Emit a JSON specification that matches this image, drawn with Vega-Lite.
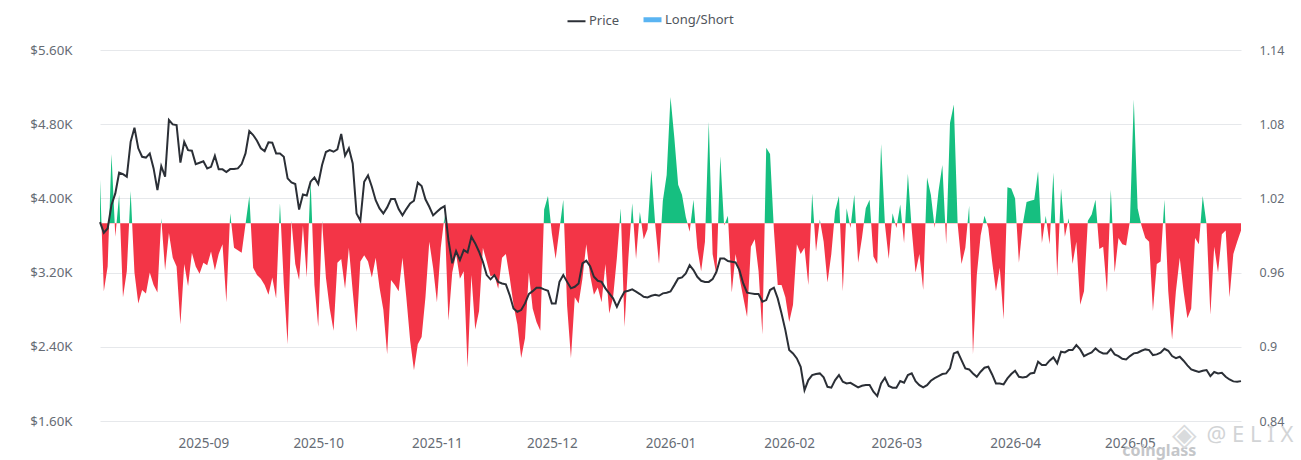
{"$schema":"https://vega.github.io/schema/vega-lite/v6.json","width":1141,"height":371,"autosize":{"type":"none"},"padding":{"left":100,"top":50,"right":60,"bottom":39},"background":"#ffffff","config":{"view":{"stroke":null},"font":"Noto Sans"},
"data":{"values":[
{"date":"2025-08-05","price":3.745,"ratio":1.035},{"date":"2025-08-06","price":3.63,"ratio":0.945},{"date":"2025-08-07","price":3.676,"ratio":0.965},{"date":"2025-08-08","price":3.93,"ratio":1.056},{"date":"2025-08-09","price":4.054,"ratio":0.989},{"date":"2025-08-10","price":4.277,"ratio":1.023},{"date":"2025-08-11","price":4.262,"ratio":0.94},{"date":"2025-08-12","price":4.234,"ratio":0.961},{"date":"2025-08-13","price":4.61,"ratio":1.026},{"date":"2025-08-14","price":4.762,"ratio":0.96},
{"date":"2025-08-15","price":4.54,"ratio":0.935},{"date":"2025-08-16","price":4.449,"ratio":0.946},{"date":"2025-08-17","price":4.44,"ratio":0.943},{"date":"2025-08-18","price":4.485,"ratio":0.96},{"date":"2025-08-19","price":4.323,"ratio":0.95},{"date":"2025-08-20","price":4.09,"ratio":0.944},{"date":"2025-08-21","price":4.348,"ratio":1.004},{"date":"2025-08-22","price":4.234,"ratio":0.962},{"date":"2025-08-23","price":4.845,"ratio":0.992},{"date":"2025-08-24","price":4.798,"ratio":0.972},
{"date":"2025-08-25","price":4.79,"ratio":0.965},{"date":"2025-08-26","price":4.385,"ratio":0.918},{"date":"2025-08-27","price":4.61,"ratio":0.967},{"date":"2025-08-28","price":4.52,"ratio":0.949},{"date":"2025-08-29","price":4.514,"ratio":0.976},{"date":"2025-08-30","price":4.37,"ratio":0.965},{"date":"2025-08-31","price":4.385,"ratio":0.959},
{"date":"2025-09-01","price":4.4,"ratio":0.968},{"date":"2025-09-02","price":4.323,"ratio":0.966},{"date":"2025-09-03","price":4.34,"ratio":0.977},{"date":"2025-09-04","price":4.46,"ratio":0.962},{"date":"2025-09-05","price":4.313,"ratio":0.975},{"date":"2025-09-06","price":4.313,"ratio":0.983},{"date":"2025-09-07","price":4.284,"ratio":0.936},{"date":"2025-09-08","price":4.316,"ratio":1.008},{"date":"2025-09-09","price":4.316,"ratio":0.98},{"date":"2025-09-10","price":4.323,"ratio":0.978},
{"date":"2025-09-11","price":4.37,"ratio":0.976},{"date":"2025-09-12","price":4.485,"ratio":0.999},{"date":"2025-09-13","price":4.726,"ratio":1.022},{"date":"2025-09-14","price":4.683,"ratio":0.964},{"date":"2025-09-15","price":4.622,"ratio":0.958},{"date":"2025-09-16","price":4.54,"ratio":0.955},{"date":"2025-09-17","price":4.51,"ratio":0.95},{"date":"2025-09-18","price":4.604,"ratio":0.942},{"date":"2025-09-19","price":4.6,"ratio":0.956},{"date":"2025-09-20","price":4.485,"ratio":0.939},
{"date":"2025-09-21","price":4.485,"ratio":1.016},{"date":"2025-09-22","price":4.45,"ratio":0.951},{"date":"2025-09-23","price":4.216,"ratio":0.902},{"date":"2025-09-24","price":4.172,"ratio":1.002},{"date":"2025-09-25","price":4.155,"ratio":0.967},{"date":"2025-09-26","price":3.88,"ratio":0.954},{"date":"2025-09-27","price":4.043,"ratio":0.998},{"date":"2025-09-28","price":4.032,"ratio":0.956},{"date":"2025-09-29","price":4.18,"ratio":1.035},{"date":"2025-09-30","price":4.226,"ratio":0.95},
{"date":"2025-10-01","price":4.155,"ratio":0.916},{"date":"2025-10-02","price":4.36,"ratio":1.002},{"date":"2025-10-03","price":4.5,"ratio":0.956},{"date":"2025-10-04","price":4.52,"ratio":0.931},{"date":"2025-10-05","price":4.503,"ratio":0.913},{"date":"2025-10-06","price":4.528,"ratio":0.968},{"date":"2025-10-07","price":4.694,"ratio":0.971},{"date":"2025-10-08","price":4.46,"ratio":0.947},{"date":"2025-10-09","price":4.54,"ratio":0.98},{"date":"2025-10-10","price":4.377,"ratio":0.945},
{"date":"2025-10-11","price":3.838,"ratio":0.912},{"date":"2025-10-12","price":3.76,"ratio":0.969},{"date":"2025-10-13","price":4.18,"ratio":0.974},{"date":"2025-10-14","price":4.248,"ratio":0.969},{"date":"2025-10-15","price":4.126,"ratio":0.956},{"date":"2025-10-16","price":3.98,"ratio":0.972},{"date":"2025-10-17","price":3.892,"ratio":0.948},{"date":"2025-10-18","price":3.838,"ratio":0.93},{"date":"2025-10-19","price":3.903,"ratio":0.894},{"date":"2025-10-20","price":3.993,"ratio":0.954},
{"date":"2025-10-21","price":3.993,"ratio":0.95},{"date":"2025-10-22","price":3.885,"ratio":0.945},{"date":"2025-10-23","price":3.817,"ratio":0.972},{"date":"2025-10-24","price":3.885,"ratio":0.94},{"date":"2025-10-25","price":3.946,"ratio":0.905},{"date":"2025-10-26","price":3.975,"ratio":0.881},{"date":"2025-10-27","price":4.169,"ratio":0.902},{"date":"2025-10-28","price":4.133,"ratio":0.908},{"date":"2025-10-29","price":3.99,"ratio":0.94},{"date":"2025-10-30","price":3.91,"ratio":0.985},{"date":"2025-10-31","price":3.817,"ratio":0.964},
{"date":"2025-11-01","price":3.856,"ratio":0.936},{"date":"2025-11-02","price":3.892,"ratio":0.98},{"date":"2025-11-03","price":3.917,"ratio":1.006},{"date":"2025-11-04","price":3.55,"ratio":0.921},{"date":"2025-11-05","price":3.3,"ratio":0.96},{"date":"2025-11-06","price":3.432,"ratio":0.975},{"date":"2025-11-07","price":3.335,"ratio":0.955},{"date":"2025-11-08","price":3.443,"ratio":0.961},{"date":"2025-11-09","price":3.418,"ratio":0.883},{"date":"2025-11-10","price":3.587,"ratio":0.958},
{"date":"2025-11-11","price":3.515,"ratio":0.914},{"date":"2025-11-12","price":3.425,"ratio":0.929},{"date":"2025-11-13","price":3.317,"ratio":0.98},{"date":"2025-11-14","price":3.173,"ratio":0.969},{"date":"2025-11-15","price":3.127,"ratio":0.957},{"date":"2025-11-16","price":3.173,"ratio":0.958},{"date":"2025-11-17","price":3.1,"ratio":0.947},{"date":"2025-11-18","price":3.083,"ratio":0.972},{"date":"2025-11-19","price":3.073,"ratio":0.975},{"date":"2025-11-20","price":2.958,"ratio":0.956},
{"date":"2025-11-21","price":2.814,"ratio":0.934},{"date":"2025-11-22","price":2.778,"ratio":0.918},{"date":"2025-11-23","price":2.796,"ratio":0.891},{"date":"2025-11-24","price":2.868,"ratio":0.907},{"date":"2025-11-25","price":2.969,"ratio":0.96},{"date":"2025-11-26","price":3.0,"ratio":0.931},{"date":"2025-11-27","price":3.037,"ratio":0.92},{"date":"2025-11-28","price":3.037,"ratio":0.913},{"date":"2025-11-29","price":3.019,"ratio":1.011},{"date":"2025-11-30","price":3.004,"ratio":1.022},
{"date":"2025-12-01","price":2.868,"ratio":0.992},{"date":"2025-12-02","price":2.868,"ratio":0.971},{"date":"2025-12-03","price":3.1,"ratio":0.995},{"date":"2025-12-04","price":3.173,"ratio":1.019},{"date":"2025-12-05","price":3.1,"ratio":0.933},{"date":"2025-12-06","price":3.03,"ratio":0.891},{"date":"2025-12-07","price":3.047,"ratio":0.94},{"date":"2025-12-08","price":3.083,"ratio":0.935},{"date":"2025-12-09","price":3.3,"ratio":0.955},{"date":"2025-12-10","price":3.328,"ratio":0.983},
{"date":"2025-12-11","price":3.27,"ratio":0.958},{"date":"2025-12-12","price":3.155,"ratio":0.942},{"date":"2025-12-13","price":3.112,"ratio":0.948},{"date":"2025-12-14","price":3.1,"ratio":0.936},{"date":"2025-12-15","price":3.03,"ratio":0.967},{"date":"2025-12-16","price":2.976,"ratio":0.927},{"date":"2025-12-17","price":2.922,"ratio":0.94},{"date":"2025-12-18","price":2.832,"ratio":0.972},{"date":"2025-12-19","price":2.922,"ratio":1.012},{"date":"2025-12-20","price":2.994,"ratio":0.916},
{"date":"2025-12-21","price":3.005,"ratio":0.972},{"date":"2025-12-22","price":3.019,"ratio":1.016},{"date":"2025-12-23","price":2.994,"ratio":0.971},{"date":"2025-12-24","price":2.969,"ratio":1.009},{"date":"2025-12-25","price":2.94,"ratio":0.987},{"date":"2025-12-26","price":2.933,"ratio":0.995},{"date":"2025-12-27","price":2.95,"ratio":1.043},{"date":"2025-12-28","price":2.961,"ratio":0.999},{"date":"2025-12-29","price":2.95,"ratio":0.967},{"date":"2025-12-30","price":2.976,"ratio":1.018},{"date":"2025-12-31","price":2.983,"ratio":1.039},
{"date":"2026-01-01","price":2.997,"ratio":1.102},{"date":"2026-01-02","price":3.065,"ratio":1.069},{"date":"2026-01-03","price":3.137,"ratio":1.031},{"date":"2026-01-04","price":3.148,"ratio":1.023},{"date":"2026-01-05","price":3.191,"ratio":1.005},{"date":"2026-01-06","price":3.281,"ratio":0.993},{"date":"2026-01-07","price":3.227,"ratio":1.019},{"date":"2026-01-08","price":3.155,"ratio":0.98},{"date":"2026-01-09","price":3.112,"ratio":0.961},{"date":"2026-01-10","price":3.1,"ratio":0.985},
{"date":"2026-01-11","price":3.1,"ratio":1.082},{"date":"2026-01-12","price":3.13,"ratio":0.975},{"date":"2026-01-13","price":3.209,"ratio":0.958},{"date":"2026-01-14","price":3.353,"ratio":1.054},{"date":"2026-01-15","price":3.353,"ratio":0.998},{"date":"2026-01-16","price":3.324,"ratio":1.006},{"date":"2026-01-17","price":3.317,"ratio":0.944},{"date":"2026-01-18","price":3.31,"ratio":0.975},{"date":"2026-01-19","price":3.227,"ratio":0.956},{"date":"2026-01-20","price":3.083,"ratio":0.94},
{"date":"2026-01-21","price":2.983,"ratio":0.924},{"date":"2026-01-22","price":2.976,"ratio":0.981},{"date":"2026-01-23","price":2.969,"ratio":0.987},{"date":"2026-01-24","price":2.969,"ratio":0.961},{"date":"2026-01-25","price":2.886,"ratio":0.91},{"date":"2026-01-26","price":2.904,"ratio":1.061},{"date":"2026-01-27","price":3.012,"ratio":1.056},{"date":"2026-01-28","price":3.037,"ratio":0.995},{"date":"2026-01-29","price":2.922,"ratio":0.95},{"date":"2026-01-30","price":2.76,"ratio":0.95},{"date":"2026-01-31","price":2.58,"ratio":0.94},
{"date":"2026-02-01","price":2.365,"ratio":0.92},{"date":"2026-02-02","price":2.329,"ratio":0.934},{"date":"2026-02-03","price":2.275,"ratio":0.983},{"date":"2026-02-04","price":2.185,"ratio":0.975},{"date":"2026-02-05","price":1.933,"ratio":0.98},{"date":"2026-02-06","price":2.041,"ratio":0.95},{"date":"2026-02-07","price":2.095,"ratio":1.024},{"date":"2026-02-08","price":2.106,"ratio":0.977},{"date":"2026-02-09","price":2.113,"ratio":1.003},{"date":"2026-02-10","price":2.07,"ratio":0.985},
{"date":"2026-02-11","price":1.969,"ratio":0.952},{"date":"2026-02-12","price":1.959,"ratio":0.975},{"date":"2026-02-13","price":2.041,"ratio":1.01},{"date":"2026-02-14","price":2.095,"ratio":1.022},{"date":"2026-02-15","price":2.023,"ratio":0.945},{"date":"2026-02-16","price":2.005,"ratio":1.012},{"date":"2026-02-17","price":2.012,"ratio":0.996},{"date":"2026-02-18","price":1.987,"ratio":1.023},{"date":"2026-02-19","price":1.962,"ratio":0.968},{"date":"2026-02-20","price":1.98,"ratio":0.988},
{"date":"2026-02-21","price":1.987,"ratio":1.012},{"date":"2026-02-22","price":1.987,"ratio":1.019},{"date":"2026-02-23","price":1.915,"ratio":0.973},{"date":"2026-02-24","price":1.869,"ratio":0.967},{"date":"2026-02-25","price":2.005,"ratio":1.064},{"date":"2026-02-26","price":2.066,"ratio":0.999},{"date":"2026-02-27","price":1.977,"ratio":0.971},{"date":"2026-02-28","price":1.959,"ratio":1.008},
{"date":"2026-03-01","price":1.959,"ratio":0.996},{"date":"2026-03-02","price":2.03,"ratio":1.015},{"date":"2026-03-03","price":2.012,"ratio":0.984},{"date":"2026-03-04","price":2.095,"ratio":1.04},{"date":"2026-03-05","price":2.113,"ratio":0.995},{"date":"2026-03-06","price":2.03,"ratio":0.96},{"date":"2026-03-07","price":1.987,"ratio":0.975},{"date":"2026-03-08","price":1.962,"ratio":0.946},{"date":"2026-03-09","price":1.987,"ratio":1.037},{"date":"2026-03-10","price":2.034,"ratio":1.023},
{"date":"2026-03-11","price":2.063,"ratio":0.996},{"date":"2026-03-12","price":2.084,"ratio":1.026},{"date":"2026-03-13","price":2.106,"ratio":1.047},{"date":"2026-03-14","price":2.113,"ratio":0.983},{"date":"2026-03-15","price":2.167,"ratio":1.081},{"date":"2026-03-16","price":2.329,"ratio":1.096},{"date":"2026-03-17","price":2.347,"ratio":0.999},{"date":"2026-03-18","price":2.257,"ratio":0.967},{"date":"2026-03-19","price":2.167,"ratio":0.98},{"date":"2026-03-20","price":2.156,"ratio":1.014},
{"date":"2026-03-21","price":2.113,"ratio":0.894},{"date":"2026-03-22","price":2.077,"ratio":0.958},{"date":"2026-03-23","price":2.131,"ratio":0.99},{"date":"2026-03-24","price":2.174,"ratio":1.006},{"date":"2026-03-25","price":2.185,"ratio":0.996},{"date":"2026-03-26","price":2.102,"ratio":0.969},{"date":"2026-03-27","price":2.005,"ratio":0.945},{"date":"2026-03-28","price":2.005,"ratio":0.964},{"date":"2026-03-29","price":1.995,"ratio":0.922},{"date":"2026-03-30","price":2.059,"ratio":1.029},{"date":"2026-03-31","price":2.106,"ratio":1.028},
{"date":"2026-04-01","price":2.142,"ratio":1.02},{"date":"2026-04-02","price":2.077,"ratio":0.968},{"date":"2026-04-03","price":2.07,"ratio":0.999},{"date":"2026-04-04","price":2.077,"ratio":1.017},{"date":"2026-04-05","price":2.113,"ratio":1.018},{"date":"2026-04-06","price":2.12,"ratio":1.019},{"date":"2026-04-07","price":2.239,"ratio":1.042},{"date":"2026-04-08","price":2.203,"ratio":0.984},{"date":"2026-04-09","price":2.203,"ratio":1.006},{"date":"2026-04-10","price":2.25,"ratio":0.983},
{"date":"2026-04-11","price":2.286,"ratio":1.041},{"date":"2026-04-12","price":2.221,"ratio":0.957},{"date":"2026-04-13","price":2.347,"ratio":1.028},{"date":"2026-04-14","price":2.34,"ratio":0.989},{"date":"2026-04-15","price":2.365,"ratio":1.004},{"date":"2026-04-16","price":2.365,"ratio":0.967},{"date":"2026-04-17","price":2.419,"ratio":0.985},{"date":"2026-04-18","price":2.372,"ratio":0.934},{"date":"2026-04-19","price":2.3,"ratio":0.945},{"date":"2026-04-20","price":2.322,"ratio":1.002},
{"date":"2026-04-21","price":2.34,"ratio":1.007},{"date":"2026-04-22","price":2.383,"ratio":1.019},{"date":"2026-04-23","price":2.347,"ratio":0.979},{"date":"2026-04-24","price":2.329,"ratio":0.981},{"date":"2026-04-25","price":2.329,"ratio":0.944},{"date":"2026-04-26","price":2.376,"ratio":1.027},{"date":"2026-04-27","price":2.318,"ratio":0.96},{"date":"2026-04-28","price":2.3,"ratio":0.988},{"date":"2026-04-29","price":2.271,"ratio":0.983},{"date":"2026-04-30","price":2.264,"ratio":0.982},
{"date":"2026-05-01","price":2.3,"ratio":1.002},{"date":"2026-05-02","price":2.329,"ratio":1.1},{"date":"2026-05-03","price":2.336,"ratio":1.012},{"date":"2026-05-04","price":2.357,"ratio":0.998},{"date":"2026-05-05","price":2.372,"ratio":0.988},{"date":"2026-05-06","price":2.365,"ratio":0.985},{"date":"2026-05-07","price":2.311,"ratio":0.929},{"date":"2026-05-08","price":2.318,"ratio":0.967},{"date":"2026-05-09","price":2.336,"ratio":0.969},{"date":"2026-05-10","price":2.379,"ratio":1.019},
{"date":"2026-05-11","price":2.357,"ratio":0.945},{"date":"2026-05-12","price":2.3,"ratio":0.906},{"date":"2026-05-13","price":2.278,"ratio":0.945},{"date":"2026-05-14","price":2.293,"ratio":0.972},{"date":"2026-05-15","price":2.25,"ratio":0.945},{"date":"2026-05-16","price":2.199,"ratio":0.923},{"date":"2026-05-17","price":2.156,"ratio":0.931},{"date":"2026-05-18","price":2.142,"ratio":0.988},{"date":"2026-05-19","price":2.128,"ratio":0.983},{"date":"2026-05-20","price":2.142,"ratio":1.022},
{"date":"2026-05-21","price":2.149,"ratio":0.999},{"date":"2026-05-22","price":2.084,"ratio":0.926},{"date":"2026-05-23","price":2.128,"ratio":0.981},{"date":"2026-05-24","price":2.113,"ratio":0.96},{"date":"2026-05-25","price":2.12,"ratio":0.991},{"date":"2026-05-26","price":2.077,"ratio":0.994},{"date":"2026-05-27","price":2.048,"ratio":0.94},{"date":"2026-05-28","price":2.027,"ratio":0.975},{"date":"2026-05-29","price":2.023,"ratio":0.985},{"date":"2026-05-30","price":2.03,"ratio":0.994}
]},
"encoding":{"x":{"field":"date","type":"ordinal","scale":{"type":"point","padding":0},"axis":{"title":null,"values":["2025-09-01","2025-10-01","2025-11-01","2025-12-01","2026-01-01","2026-02-01","2026-03-01","2026-04-01","2026-05-01"],"labelExpr":"slice(datum.value,0,7)","labelAngle":0,"labelOverlap":false,"domain":false,"ticks":false,"labelPadding":15,"labelFontSize":13.5,"labelColor":"#666c75","labelFont":"Noto Sans","grid":false}}},
"layer":[
{"mark":{"type":"area","interpolate":"linear","fill":{"gradient":"linear","x1":0,"y1":0,"x2":0,"y2":1,"stops":[{"offset":0,"color":"#16bf80"},{"offset":0.4615,"color":"#16bf80"},{"offset":0.4615,"color":"#f33547"},{"offset":1,"color":"#f33547"}]}},
"encoding":{"y":{"field":"ratio","type":"quantitative","scale":{"domain":[0.84,1.14],"nice":false,"zero":false},"axis":{"orient":"right","title":null,"values":[0.84,0.9,0.96,1.02,1.08,1.14],"format":"~g","grid":false,"domain":false,"ticks":false,"labelPadding":18,"labelFontSize":12.5,"labelColor":"#666c75","labelFont":"Noto Sans"}},"y2":{"datum":1}}},
{"mark":{"type":"line","strokeWidth":2,"interpolate":"linear"},
"encoding":{"y":{"field":"price","type":"quantitative","scale":{"domain":[1.6,5.6],"nice":false,"zero":false},"axis":{"orient":"left","title":null,"values":[1.6,2.4,3.2,4,4.8,5.6],"labelExpr":"'$'+format(datum.value,'.2f')+'K'","grid":true,"gridColor":"#e6e8eb","gridWidth":1,"domain":false,"ticks":false,"labelPadding":28,"labelFontSize":13.3,"labelColor":"#666c75","labelFont":"Noto Sans"}},
"color":{"datum":"Price","scale":{"domain":["Price","Long/Short"],"range":["#2b2f36","#5ab4f2"]},"legend":{"title":null,"orient":"none","direction":"horizontal","legendX":470,"legendY":-37,"symbolType":"stroke","symbolSize":324,"labelOffset":6,"columnPadding":13,"labelFontSize":13,"labelColor":"#50555c","labelFont":"Noto Sans","encode":{"symbols":{"update":{"strokeWidth":{"signal":"datum.value==='Long/Short'?5:2"}}}}}}}},
{"data":{"values":[{"date":"2026-05-21","level":1.45,"label":"@ E L I X"}]},"mark":{"type":"text","align":"left","baseline":"middle","fontSize":22,"font":"Noto Sans","color":"#d2d4d6"},"encoding":{"y":{"field":"level","type":"quantitative","scale":{"domain":[1.6,5.6],"nice":false,"zero":false},"axis":null},"text":{"field":"label"}}},
{"data":{"values":[{"date":"2026-04-29","level":1.28,"label":"coinglass"}]},"mark":{"type":"text","align":"left","baseline":"middle","fontSize":16,"fontWeight":"bold","font":"Noto Sans","color":"#c4c6c9"},"encoding":{"y":{"field":"level","type":"quantitative","scale":{"domain":[1.6,5.6],"nice":false,"zero":false},"axis":null},"text":{"field":"label"}}},
{"data":{"values":[{"date":"2026-05-12","level":1.45,"label":"◈"}]},"mark":{"type":"text","align":"left","baseline":"middle","fontSize":32,"font":"DejaVu Sans","color":"#d9dbdd"},"encoding":{"y":{"field":"level","type":"quantitative","scale":{"domain":[1.6,5.6],"nice":false,"zero":false},"axis":null},"text":{"field":"label"}}}
],
"resolve":{"scale":{"y":"independent"},"axis":{"y":"independent"}}}
